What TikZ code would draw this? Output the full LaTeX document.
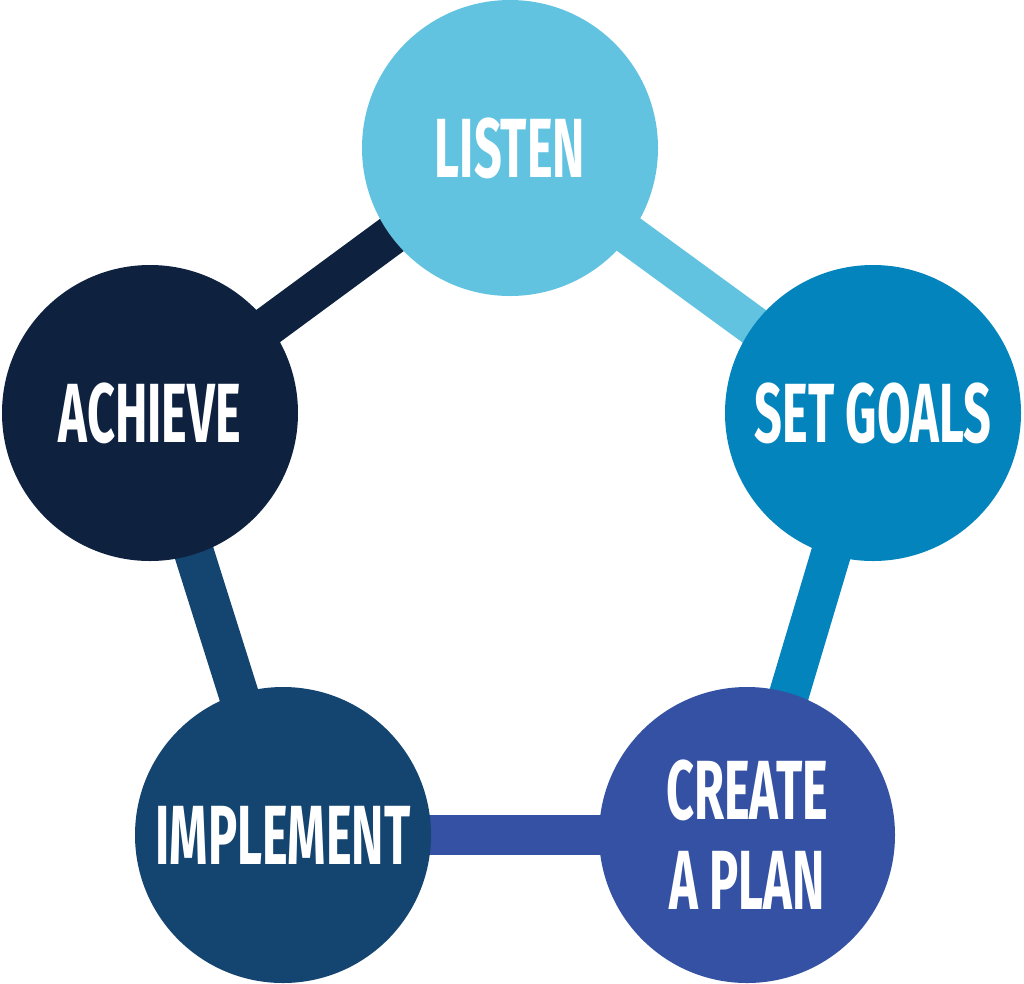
\documentclass[tikz,border=0pt]{standalone}
\usepackage{fontspec}
\setmainfont{Fira Sans}[FakeStretch=0.58]
\definecolor{cL}{HTML}{62C3E1}
\definecolor{cS}{HTML}{0384BD}
\definecolor{cC}{HTML}{3451A3}
\definecolor{cI}{HTML}{144470}
\definecolor{cA}{HTML}{0E2240}
\tikzset{bub/.style={circle,minimum size=296pt,inner sep=0pt,text=white,font=\fontsize{84}{90}\selectfont\bfseries,align=center},
band/.style={line width=40pt}}
\begin{document}
\begin{tikzpicture}[x=1pt,y=-1pt]
\useasboundingbox (0,0) rectangle (1024,983);
\coordinate (pL) at (510,148);
\coordinate (pS) at (873,413);
\coordinate (pC) at (747,835);
\coordinate (pI) at (283,835);
\coordinate (pA) at (150,413);
\draw[band,cL] (pL) -- (pS);
\draw[band,cS] (pS) -- (pC);
\draw[band,cC] (pC) -- (pI);
\draw[band,cI] (pI) -- (pA);
\draw[band,cA] (pA) -- (pL);
\node[bub,fill=cL] (L) at (pL) {LISTEN};
\node[bub,fill=cS] (S) at (pS) {SET GOALS};
\node[bub,fill=cC] (C) at (pC) {CREATE\\A PLAN};
\node[bub,fill=cI] (I) at (pI) {IMPLEMENT};
\node[bub,fill=cA] (A) at (pA) {ACHIEVE};
\end{tikzpicture}
\end{document}
